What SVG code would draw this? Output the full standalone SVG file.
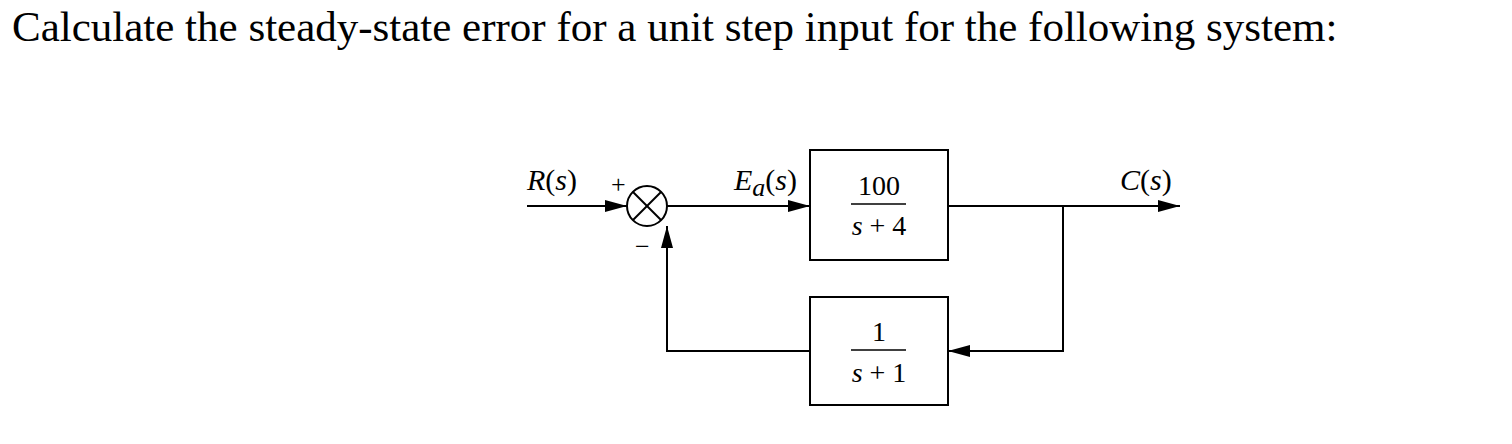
<svg xmlns="http://www.w3.org/2000/svg" width="1512" height="444" viewBox="0 0 1512 444">
<defs>
<style>
.ln{stroke:#000;stroke-width:2;fill:none}
.t{font-family:"Liberation Serif",serif;fill:#000}
.i{font-style:italic}
</style>
<marker id="ar" markerWidth="22" markerHeight="12" refX="22" refY="6" orient="auto" markerUnits="userSpaceOnUse"><path d="M0,0 L22,6 L0,12 Z" fill="#000"/></marker>
</defs>
<rect width="1512" height="444" fill="#fff"/>
<text class="t" x="12" y="41" font-size="43">Calculate the steady-state error for a unit step input for the following system:</text>
<g id="sum">
<circle class="ln" cx="647" cy="206" r="20"/>
<line class="ln" x1="633" y1="192" x2="661" y2="220"/>
<line class="ln" x1="661" y1="192" x2="633" y2="220"/>
</g>
<g id="G">
<rect class="ln" x="810" y="150" width="138" height="110"/>
<text class="t" x="879" y="195" font-size="28" text-anchor="middle">100</text>
<line x1="851" y1="204" x2="906" y2="204" stroke="#000" stroke-width="1.5"/>
<text class="t" x="879" y="235" font-size="28" text-anchor="middle"><tspan class="i">s</tspan> + 4</text>
</g>
<g id="H">
<rect class="ln" x="810" y="297" width="138" height="108"/>
<text class="t" x="879" y="341" font-size="28" text-anchor="middle">1</text>
<line x1="851" y1="350" x2="906" y2="350" stroke="#000" stroke-width="1.5"/>
<text class="t" x="879" y="382" font-size="28" text-anchor="middle"><tspan class="i">s</tspan> + 1</text>
</g>
<g id="connectors">
<line class="ln" x1="527" y1="206" x2="627" y2="206" marker-end="url(#ar)"/>
<line class="ln" x1="667" y1="206" x2="810" y2="206" marker-end="url(#ar)"/>
<line class="ln" x1="948" y1="206" x2="1180" y2="206" marker-end="url(#ar)"/>
<polyline class="ln" points="1063,206 1063,351 948,351" marker-end="url(#ar)"/>
<polyline class="ln" points="810,351 667,351 667,226" marker-end="url(#ar)"/>
</g>
<g id="labels">
<text class="t" x="527" y="190" font-size="30"><tspan class="i">R</tspan>(<tspan class="i">s</tspan>)</text>
<text class="t" x="611" y="193" font-size="26">+</text>
<text class="t" x="635" y="255" font-size="26">−</text>
<text class="t" x="734" y="190" font-size="30"><tspan class="i">E</tspan><tspan class="i" font-size="26" dy="6">a</tspan><tspan dy="-6">(</tspan><tspan class="i">s</tspan>)</text>
<text class="t" x="1120" y="190" font-size="30"><tspan class="i">C</tspan>(<tspan class="i">s</tspan>)</text>
</g>
</svg>
